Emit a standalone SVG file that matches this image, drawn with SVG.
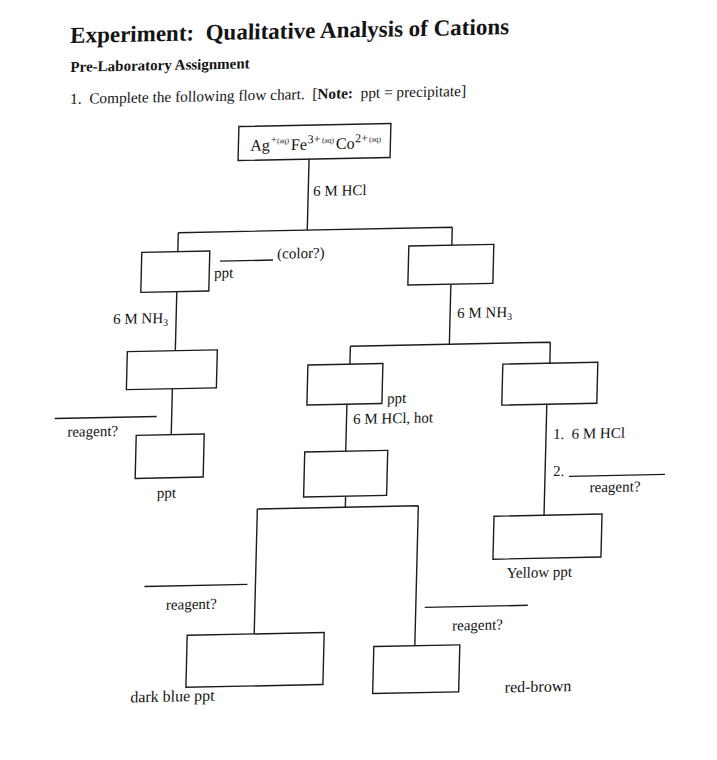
<svg xmlns="http://www.w3.org/2000/svg" width="717" height="760" viewBox="0 0 717 760">
<style>
.bx{fill:none;stroke:#1c1c1c;stroke-width:1.4}
.ln{fill:none;stroke:#1c1c1c;stroke-width:1.4}
text{font-family:"Liberation Serif","Times New Roman",serif;fill:#141414}
.lb{font-size:15px}
.big{font-size:16px}
</style>
<rect width="717" height="760" fill="#ffffff"/>
<g transform="translate(358,400) matrix(1,-0.02,-0.025,1,0,0) translate(-358,-400)">
  <g id="header">
    <text x="61" y="37" font-size="23" font-weight="bold" xml:space="preserve">Experiment:  Qualitative Analysis of Cations</text>
    <text x="62" y="66" font-size="15" font-weight="bold">Pre-Laboratory Assignment</text>
    <text x="62.5" y="98" font-size="15.3" xml:space="preserve">1.  Complete the following flow chart.  [<tspan font-weight="bold">Note:</tspan>  ppt = precipitate]</text>
  </g>

  <g id="connectors">
    <path class="ln" d="M303 158V229M174 229H448M174 229V248M448 229V247M174 288V347M172 385V431M448 286V346M349 346H549M349 346V364M549 346V367M347 404V451M348 496V507M260 507H421M260 507V632M421 507V647M547 408V519"/>
    <path class="ln" d="M216.5 258.3H269.5M55 412.5H157M149 582.3H252M430 608.8H533M571 480.6H667"/>
  </g>

  <g id="n-start">
    <rect class="bx" x="232" y="124" width="152" height="34"/>
    <text y="148.5" font-size="16"><tspan x="244">Ag</tspan><tspan x="264.5" y="141" font-size="10">+</tspan><tspan x="270.5" y="141.5" font-size="7.5">(aq)</tspan><tspan x="284.5" y="148.5">Fe</tspan><tspan x="301" y="142" font-size="12">3+</tspan><tspan x="315.5" y="142" font-size="7.5">(aq)</tspan><tspan x="329.5" y="148.5">Co</tspan><tspan x="348.5" y="142" font-size="12">2+</tspan><tspan x="362.5" y="142" font-size="7.5">(aq)</tspan></text>
  </g>
  <g id="n-left1"><rect class="bx" x="138" y="248" width="68" height="40"/></g>
  <g id="n-right1"><rect class="bx" x="405" y="247" width="85" height="39"/></g>
  <g id="n-left2"><rect class="bx" x="126" y="347" width="90" height="38"/></g>
  <g id="n-left3"><rect class="bx" x="137" y="431" width="68" height="43"/></g>
  <g id="n-mid1"><rect class="bx" x="307" y="364" width="75" height="40"/></g>
  <g id="n-mid2"><rect class="bx" x="306" y="451" width="83" height="45"/></g>
  <g id="n-midright"><rect class="bx" x="502" y="367" width="95" height="41"/></g>
  <g id="n-yellow"><rect class="bx" x="497" y="519" width="108" height="43"/></g>
  <g id="n-darkblue"><rect class="bx" x="193" y="632" width="137" height="52"/></g>
  <g id="n-redbrown"><rect class="bx" x="380" y="647" width="86" height="47"/></g>

  <g id="labels">
    <text class="lb" x="308" y="195">6 M HCl</text>
    <text class="lb" x="211" y="275">ppt</text>
    <text class="lb" x="273.5" y="257">(color?)</text>
    <text class="lb" x="111" y="319">6 M NH<tspan font-size="10" dy="3">3</tspan></text>
    <text class="lb" x="455" y="320">6 M NH<tspan font-size="10" dy="3">3</tspan></text>
    <text class="lb" x="68" y="431">reagent?</text>
    <text class="lb" x="159" y="494">ppt</text>
    <text class="lb" x="387" y="404">ppt</text>
    <text class="lb" x="353.6" y="424">6 M HCl, hot</text>
    <text class="lb" x="554" y="443">1.</text>
    <text class="lb" x="572.6" y="443">6 M HCl</text>
    <text class="lb" x="555" y="480">2.</text>
    <text class="lb" x="592" y="497">reagent?</text>
    <text class="lb" x="511" y="581">Yellow ppt</text>
    <text class="lb" x="171" y="606">reagent?</text>
    <text class="big" x="137.6" y="698">dark blue ppt</text>
    <text class="lb" x="457.8" y="632.5">reagent?</text>
    <text class="big" x="512" y="695.5">red-brown</text>
  </g>
</g>
</svg>
